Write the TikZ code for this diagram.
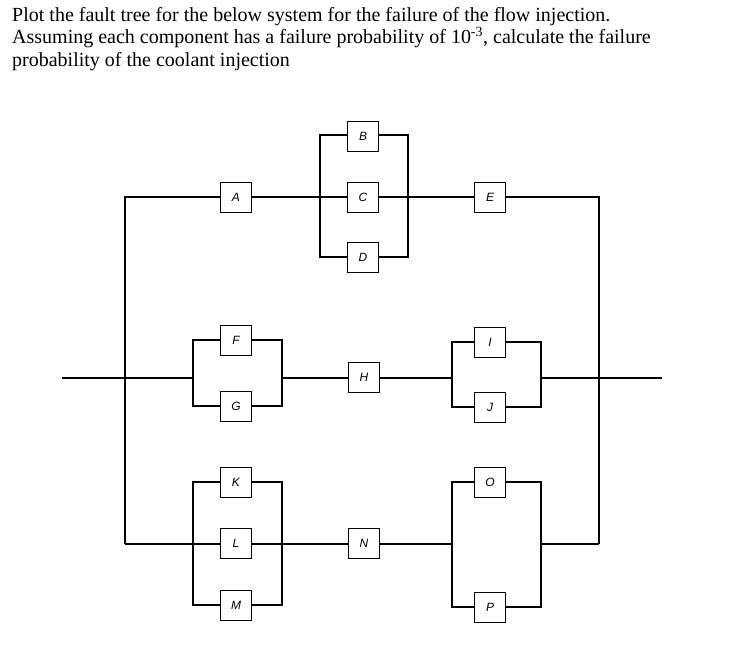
\documentclass[tikz,border=0pt]{standalone}
\usepackage{fontspec}
\setmainfont{Liberation Serif}
\newfontfamily\lblfont{Liberation Sans}
\begin{document}
\begin{tikzpicture}[x=1pt,y=-1pt,
  comp/.style={draw,line width=0.9pt,fill=white,minimum width=31pt,minimum height=30pt,inner sep=0pt,font=\lblfont\fontsize{12}{12}\selectfont\itshape},
  wire/.style={line width=1.5pt}]
\useasboundingbox (0,0) rectangle (748,660);
\node[anchor=north west,inner sep=0pt,font=\fontsize{20}{22.5}\selectfont,align=left] (txt) at (12,7)
 {Plot the fault tree for the below system for the failure of the flow injection.\\
  Assuming each component has a failure probability of 10\textsuperscript{-3}, calculate the failure\\
  probability of the coolant injection};
% coordinates
\coordinate (oL1) at (125,197); \coordinate (oR1) at (599,197);
\coordinate (oL3) at (125,544); \coordinate (oR3) at (599,544);
\coordinate (in) at (62,378); \coordinate (out) at (662,378);
\coordinate (pl1) at (320,197); \coordinate (pr1) at (408,197);
\coordinate (pl2) at (193,378); \coordinate (pr2) at (282,378);
\coordinate (ql2) at (452,378); \coordinate (qr2) at (541,378);
\coordinate (pl3) at (193,544); \coordinate (pr3) at (282,544);
\coordinate (ql3) at (452,544); \coordinate (qr3) at (541,544);
% wires row 1
\draw[wire] (oL3) -- (oL1) -- (pl1) -- (pr1) -- (oR1) -- (oR3);
\draw[wire] (320,135) -- (320,257) -- (408,257) -- (408,135) -- cycle;
% row 2
\draw[wire,line width=1.2pt] (in) -- (pl2);
\draw[wire] (pl2) -- (193,340) -- (282,340) -- (282,406) -- (193,406) -- cycle;
\draw[wire] (pr2) -- (ql2);
\draw[wire] (452,342) -- (541,342) -- (541,407) -- (452,407) -- cycle;
\draw[wire] (qr2) -- (out);
% row 3
\draw[wire] (oL3) -- (ql3); \draw[wire] (qr3) -- (oR3);
\draw[wire] (193,482) -- (282,482) -- (282,605) -- (193,605) -- cycle;
\draw[wire] (452,482) -- (541,482) -- (541,607) -- (452,607) -- cycle;
% components
\node[comp] (A) at (236,197) {A};
\node[comp] (B) at (363,136) {B};
\node[comp] (C) at (363,197) {C};
\node[comp] (D) at (363,257) {D};
\node[comp] (E) at (490,197) {E};
\node[comp] (F) at (236,340) {F};
\node[comp] (G) at (236,406) {G};
\node[comp] (H) at (364,377) {H};
\node[comp] (I) at (490,342) {I};
\node[comp] (J) at (490,407) {J};
\node[comp] (K) at (236,482) {K};
\node[comp] (L) at (236,543) {L};
\node[comp] (M) at (236,605) {M};
\node[comp] (N) at (364,543) {N};
\node[comp] (O) at (490,482) {O};
\node[comp] (P) at (490,607) {P};
\end{tikzpicture}
\end{document}
